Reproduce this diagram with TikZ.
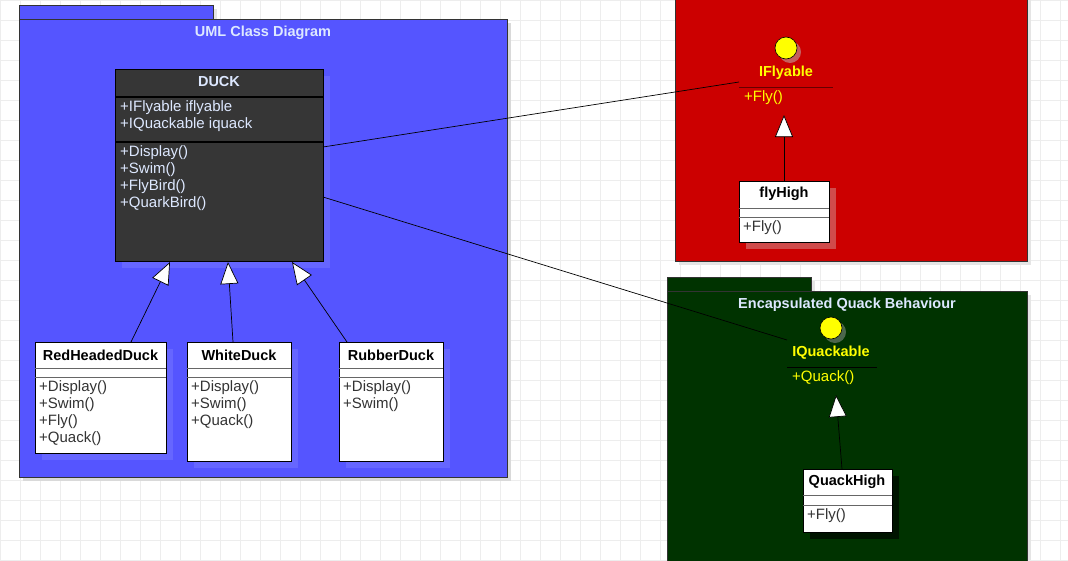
\documentclass[tikz,border=0pt]{standalone}
\usepackage{fontspec}
\setmainfont{Liberation Sans}
\usetikzlibrary{arrows.meta}
\definecolor{pblue}{HTML}{5555FF}
\definecolor{pblueS}{HTML}{6666FF}
\definecolor{pred}{HTML}{CC0000}
\definecolor{pgreen}{HTML}{003300}
\definecolor{dgrey}{HTML}{363636}
\definecolor{ttl}{HTML}{DDE8FF}
\definecolor{iyel}{HTML}{FFFF00}
\tikzset{
 pkg/.style={draw=black!80,line width=0.8pt},
 cls/.style={draw=black,fill=white,line width=0.8pt},
 hd/.style={font=\fontsize{14.5}{16}\selectfont\bfseries},
 mem/.style={font=\fontsize{15}{17}\selectfont,anchor=north west,align=left,inner sep=0pt},
 gen/.style={-{Triangle[fill=white,length=22pt,width=18pt,line width=0.7pt]},line width=0.7pt},
 assoc/.style={line width=0.7pt}
}
\begin{document}
\begin{tikzpicture}[x=1pt,y=-1pt]
\useasboundingbox (0,0) rectangle (1068,560);
\clip (0,0) rectangle (1068,560);
\fill[white] (0,0) rectangle (1068,560);
\foreach \i in {0,...,53} {\draw[black!7,line width=0.6pt] (\i*20,0) -- (\i*20,560);}
\foreach \i in {0,...,28} {\draw[black!7,line width=0.6pt] (0,\i*20) -- (1068,\i*20);}
% Blue package
\fill[black!15] (23,23) rectangle (511,481);
\fill[black!10] (213,9) rectangle (217,19);
\draw[pkg,fill=pblue] (19,5) rectangle (213,19);
\draw[pkg,fill=pblue] (19,19) rectangle (507,477);
\node[text=ttl,hd] (t1) at (263,33) {UML Class Diagram};
% DUCK
\fill[pblueS] (122,76) rectangle (330,268);
\draw[cls,fill=dgrey] (115,69) rectangle (323,261);
\draw[line width=1.2pt,black] (115,97) -- (323,97) (115,142) -- (323,142);
\node[hd,text=ttl] (duckh) at (219,82) {DUCK};
\node[mem,text=ttl] (da) at (120,100) {+IFlyable iflyable\\+IQuackable iquack};
\node[mem,text=ttl] (dm) at (120,145) {+Display()\\+Swim()\\+FlyBird()\\+QuarkBird()};
\coordinate (d1) at (323,147);
\coordinate (d2) at (323,197);
% subclasses
\foreach \x/\w/\b/\n/\t/\m in {35/131/453/rh/RedHeadedDuck/{+Display()\\+Swim()\\+Fly()\\+Quack()},187/104/461/wd/WhiteDuck/{+Display()\\+Swim()\\+Quack()},339/104/461/rd/RubberDuck/{+Display()\\+Swim()}}{
 \fill[pblueS] (\x+7,349) rectangle (\x+\w+7,\b+7);
 \draw[cls] (\x,342) rectangle (\x+\w,\b);
 \draw[black!60,line width=0.8pt] (\x,368) -- (\x+\w,368) (\x,377) -- (\x+\w,377);
 \node[hd] (\n) at (\x+\w/2,355) {\t};
 \node[mem,text=black!80] (\n m) at (\x+4,380) {\m};
}
\coordinate (rht) at (131,342);
\coordinate (wdt) at (233,342);
\coordinate (rdt) at (347,342);
\draw[gen] (rht) -- (170,262);
\draw[gen] (wdt) -- (228,262);
\draw[gen] (rdt) -- (292,262);
% Red package
\fill[black!10] (679,0) rectangle (1031,265);
\draw[pkg,fill=pred] (675,-10) rectangle (1027,261);
\node[text=ttl,hd] (t2) at (851,-7) {Encapsulated Fly Behaviour};
\fill[black!25,opacity=0.5] (790,52) circle (11);
\draw[fill=iyel,line width=0.6pt] (786,48) circle (11);
\node[hd,text=iyel] (ifl) at (786,73) {IFlyable};
\draw[line width=1pt,black!60!red] (739,87) -- (833,87);
\coordinate (iflL) at (739,82);
\node[mem,text=iyel] (iflm) at (744,90) {+Fly()};
\fill[black!15,opacity=0.35] (746,188) rectangle (836,249);
\draw[cls] (739,181) rectangle (829,242);
\draw[black!60,line width=0.8pt] (739,208) -- (829,208) (739,217) -- (829,217);
\node[hd] (fh) at (784,194) {flyHigh};
\node[mem,text=black!80] (fhm) at (743,220) {+Fly()};
\draw[gen] (784,181) -- (784,115);
% Green package
\fill[black!10] (671,295) rectangle (1031,560);
\fill[black!10] (811,281) rectangle (815,291);
\draw[pkg,fill=pgreen] (667,277) rectangle (811,291);
\draw[pkg,fill=pgreen] (667,291) rectangle (1027,570);
\node[text=ttl,hd] (t3) at (847,305) {Encapsulated Quack Behaviour};
\fill[black!40,opacity=0.5] (835,332) circle (11);
\draw[fill=iyel,line width=0.6pt] (831,328) circle (11);
\node[hd,text=iyel] (iq) at (831,353) {IQuackable};
\draw[line width=1pt,black] (787,367) -- (877,367);
\coordinate (iqL) at (787,340);
\node[mem,text=iyel] (iqm) at (792,370) {+Quack()};
\fill[black!60!pgreen] (810,476) rectangle (899,539);
\draw[cls] (803,469) rectangle (892,532);
\draw[black!60,line width=0.8pt] (803,495) -- (892,495) (803,505) -- (892,505);
\node[hd] (qh) at (847,482) {QuackHigh};
\node[mem,text=black!80] (qhm) at (807,508) {+Fly()};
\draw[gen] (842,469) -- (836,395);
% associations
\draw[assoc] (d1) -- (iflL);
\draw[assoc] (d2) -- (iqL);
\end{tikzpicture}
\end{document}
